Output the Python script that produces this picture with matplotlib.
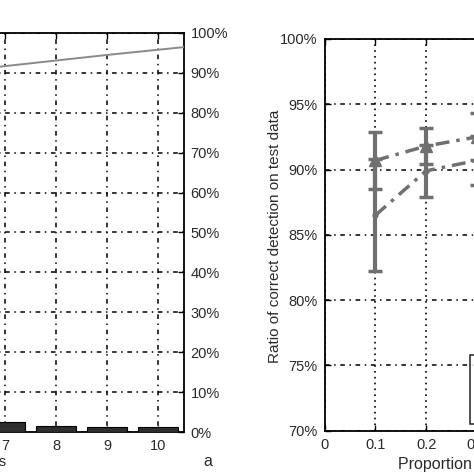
import matplotlib.pyplot as plt

plt.rcParams['font.family'] = ['Liberation Sans', 'DejaVu Sans']

W = H = 474.0

# left panel (Pareto chart, only the right end is visible)
categories = [7, 8, 9, 10]
bar_pct = [2.5, 1.6, 1.3, 1.3]
cum_cats = [6, 7, 8, 9, 10, 11]
cum_pct = [90.3, 91.7, 93.1, 94.5, 95.8, 97.1]
left_yticks = list(range(0, 101, 10))

# right panel (accuracy vs proportion)
proportion = [0.1, 0.2, 0.3]
series_a = [90.7, 91.8, 92.5]
err_a = [2.2, 1.4, 1.8]
series_b = [86.5, 89.9, 90.7]
err_b = [4.3, 2.0, 1.9]
right_yticks = [70, 75, 80, 85, 90, 95, 100]
right_xticks = [0, 0.1, 0.2, 0.3, 0.4, 0.5, 0.6, 0.7, 0.8, 0.9, 1.0]

GRAY = "#707070"
TXT = "#2a2a2a"
FS = 10.5


def box(x0, y_top, w, y_bot):
    """pixel box -> figure fraction"""
    return [x0 / W, (H - y_bot) / H, w / W, (y_bot - y_top) / H]


fig = plt.figure(figsize=(4.74, 4.74), dpi=100)

# ---- left axes ----
ax1 = fig.add_axes(box(-326.5, 33, 510, 432))
ax1.bar(categories, bar_pct, width=0.8, color="#2e2e2e", edgecolor="black", lw=0.8, zorder=3)
ax1.plot(cum_cats, cum_pct, color="#8a8a8a", lw=1.4, zorder=4)
ax1.set_xlim(0.5, 10.5)
ax1.set_ylim(0, 100)
ax1.set_xticks(categories)
ax1.yaxis.tick_right()
ax1.set_yticks(left_yticks)
ax1.set_yticklabels([f"{v}%" for v in left_yticks])
ax1.grid(True, color="black", lw=1.1, linestyle=(0, (1, 3, 3, 3)), zorder=0)
ax1.tick_params(direction="in", length=4, width=1, labelsize=FS, labelcolor=TXT, pad=5,
                right=True, top=True)
for s in ax1.spines.values():
    s.set_linewidth(1.3)
ax1.set_axisbelow(True)
fig.text(6 / W, 1 - 462 / H, "Number of defect types", ha="right", va="center",
         fontsize=FS, color=TXT)
fig.text(208 / W, 1 - 462 / H, "a", ha="center", va="center", fontsize=FS + 1, color=TXT)

# ---- right axes ----
ax2 = fig.add_axes(box(324.7, 39, 507, 430.7))
ax2.errorbar(proportion, series_a, yerr=err_a, color=GRAY, lw=2.5, linestyle=(0, (4, 2, 1, 2)),
             marker="^", ms=9, elinewidth=3, capsize=5, capthick=2.5, zorder=4,
             label="Proposed method")
ax2.errorbar(proportion, series_b, yerr=err_b, color=GRAY, lw=2.5, linestyle=(0, (4, 2, 1, 2)),
             marker="o", ms=3.5, elinewidth=3, capsize=5, capthick=2.5, zorder=3,
             label="Baseline")
ax2.set_xlim(0, 1)
ax2.set_ylim(70, 100)
ax2.set_xticks(right_xticks)
ax2.set_xticklabels([f"{v:g}" for v in right_xticks])
ax2.set_yticks(right_yticks)
ax2.set_yticklabels([f"{v}%" for v in right_yticks])
ax2.xaxis.grid(True, color="black", lw=1.2, linestyle=(0, (1, 2.5)), zorder=0)
ax2.yaxis.grid(True, color="black", lw=1.1, linestyle=(0, (3, 3, 1, 3)), zorder=0)
ax2.tick_params(direction="in", length=4, width=1, labelsize=FS, labelcolor=TXT, pad=5,
                right=True, top=True)
for s in ax2.spines.values():
    s.set_linewidth(1.3)
ax2.set_axisbelow(True)

ax2.set_ylabel("Ratio of correct detection on test data", fontsize=11, color=TXT, va="center")
ax2.yaxis.set_label_coords(275 / W, 1 - 236 / H, transform=fig.transFigure)
ax2.set_xlabel("Proportion of training data", fontsize=11.5, color=TXT, ha="left", va="center")
ax2.xaxis.set_label_coords(398 / W, 1 - 464 / H, transform=fig.transFigure)

leg = ax2.legend(loc="lower left", bbox_to_anchor=(470 / W, 50 / H),
                 bbox_transform=fig.transFigure, borderaxespad=0, fontsize=FS,
                 frameon=True, fancybox=False, edgecolor="black",
                 borderpad=0.9, labelspacing=1.0)
leg.get_frame().set_linewidth(1.2)

fig.savefig("out.png", dpi=100, facecolor="white")
